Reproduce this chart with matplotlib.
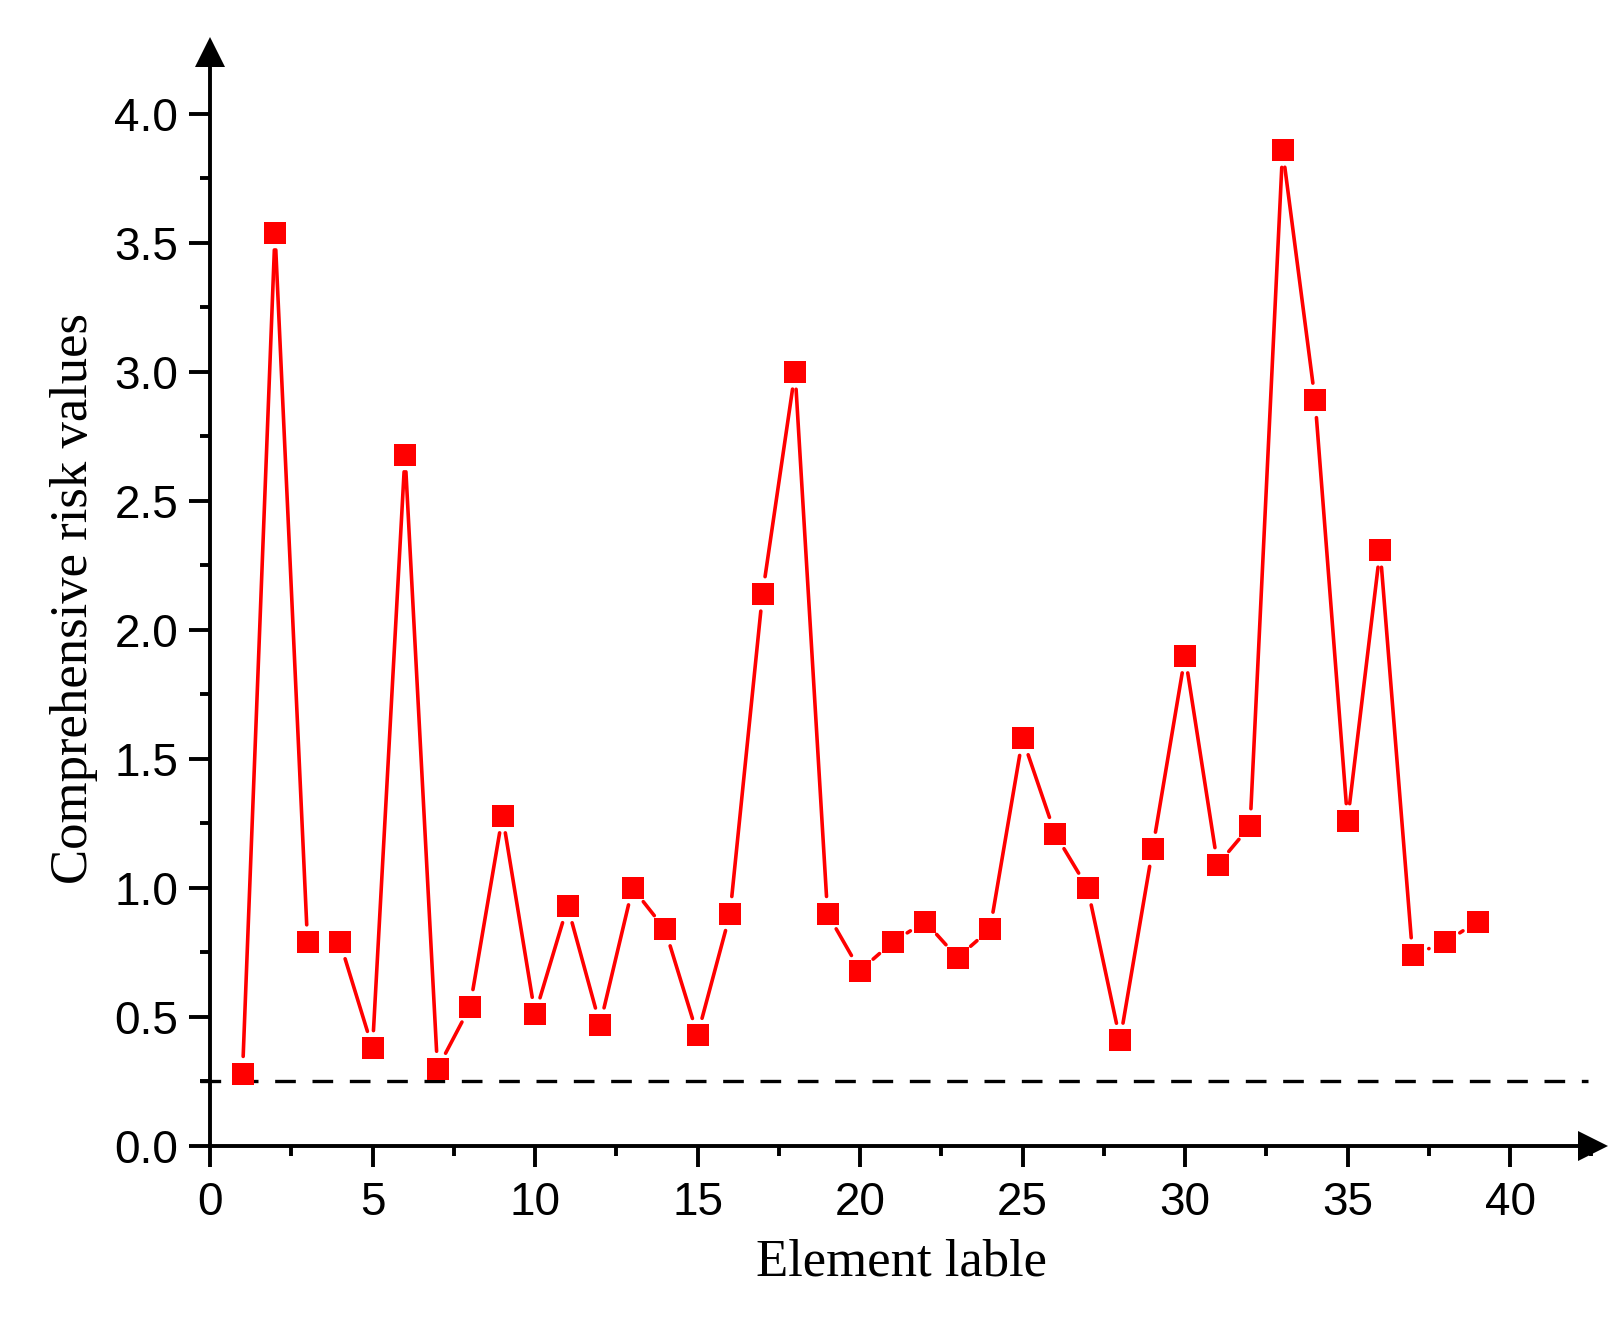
import matplotlib
matplotlib.use("Agg")
import matplotlib.pyplot as plt
from matplotlib.ticker import MultipleLocator, FormatStrFormatter
import numpy as np

# ---- data ----
element_labels = list(range(1, 40))
risk_values = [0.28, 3.54, 0.79, 0.79, 0.38, 2.68, 0.30, 0.54, 1.28, 0.51,
               0.93, 0.47, 1.00, 0.84, 0.43, 0.90, 2.14, 3.00, 0.90, 0.68,
               0.79, 0.87, 0.73, 0.84, 1.58, 1.21, 1.00, 0.41, 1.15, 1.90,
               1.09, 1.24, 3.86, 2.89, 1.26, 2.31, 0.74, 0.79, 0.87]
threshold = 0.25
x_label = "Element lable"
y_label = "Comprehensive risk values"

XMAX = 42.55
YMAX = 4.24

fig = plt.figure(figsize=(16.24, 13.2), dpi=100)
ax = fig.add_axes([210/1624, 174/1320, 1383/1624, 1094/1320])
ax.set_xlim(0, XMAX)
ax.set_ylim(0, YMAX)

red = "#ff0000"
lw = 2.6
axw = 2.8
shrink = 12.5  # points

# line segments with Origin-like gaps near symbols
pts = ax.transData.transform(np.column_stack([element_labels, risk_values]))
for i in range(len(element_labels) - 1):
    seg_len = np.hypot(*(pts[i+1] - pts[i]))
    if seg_len <= 2 * shrink * fig.dpi / 72.0:
        continue
    ax.annotate("", xy=(element_labels[i+1], risk_values[i+1]),
                xytext=(element_labels[i], risk_values[i]),
                xycoords="data", textcoords="data",
                arrowprops=dict(arrowstyle="-", color=red, lw=lw,
                                shrinkA=shrink, shrinkB=shrink))

ax.plot(element_labels, risk_values, linestyle="none", marker="s",
        ms=16.5, color=red, mec=red, mew=0, zorder=3)

# threshold dashed line
ax.plot([-0.3, 42.4], [threshold, threshold], color="black", lw=2.4,
        dashes=(6.2, 5.0), clip_on=False, zorder=2)

for s in ["top", "right"]:
    ax.spines[s].set_visible(False)
for s in ["left", "bottom"]:
    ax.spines[s].set_linewidth(axw)

ax.xaxis.set_minor_locator(MultipleLocator(2.5))
ax.yaxis.set_minor_locator(MultipleLocator(0.25))
ax.yaxis.set_major_formatter(FormatStrFormatter("%.1f"))
ax.set_xticks([v for v in range(0, 41, 5)])
ax.set_yticks([v * 0.5 for v in range(0, 9)])

ax.tick_params(which="major", direction="out", length=15, width=axw,
               labelsize=33)
ax.tick_params(axis="x", which="major", pad=10)
ax.tick_params(axis="y", which="major", pad=8)
ax.tick_params(which="minor", direction="out", length=7.5, width=axw)
for lab in ax.get_xticklabels() + ax.get_yticklabels():
    lab.set_fontfamily(["Liberation Sans", "DejaVu Sans"])

ax.set_xlabel(x_label, fontsize=38, fontfamily=["Liberation Serif", "DejaVu Serif"], labelpad=10)
ax.set_ylabel(y_label, fontsize=38, fontfamily=["Liberation Serif", "DejaVu Serif"], labelpad=12)

# arrow heads on axes
ax.plot([1], [0], marker=">", ms=21, color="black", transform=ax.transAxes,
        clip_on=False, markeredgewidth=0)
ax.plot([0], [1], marker="^", ms=21, color="black", transform=ax.transAxes,
        clip_on=False, markeredgewidth=0)

fig.savefig("out.png", dpi=100, facecolor="white")
